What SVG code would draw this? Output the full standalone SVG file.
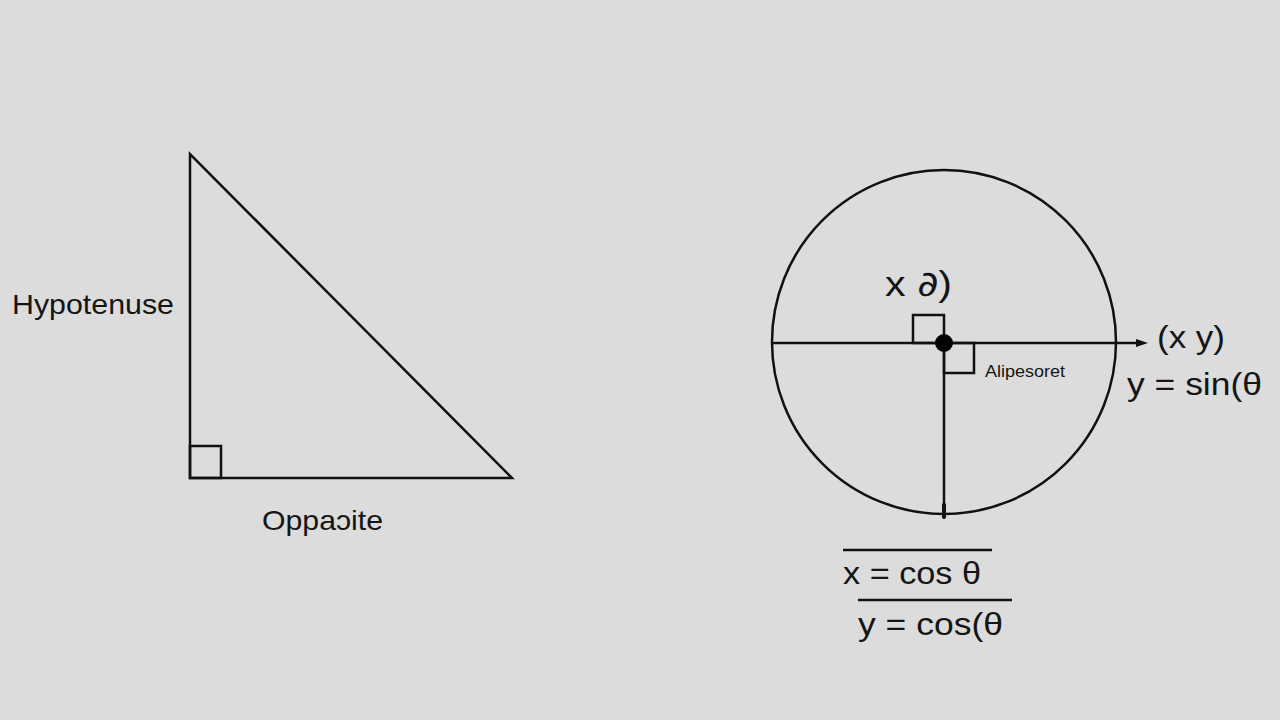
<svg xmlns="http://www.w3.org/2000/svg" width="1280" height="720" viewBox="0 0 1280 720">
<style>
.ln{fill:none;stroke:#111;stroke-width:2.5}
.t{font-family:"Liberation Sans",Arial,sans-serif;fill:#151515}
</style>
<rect width="1280" height="720" fill="#dcdcdc"/>
<g id="triangle">
<polygon class="ln" points="190,154 190,478 512,478"/>
<rect class="ln" x="190" y="446" width="31" height="32"/>
</g>
<g id="hypotenuse-label"><text class="t" x="12" y="314" font-size="28" textLength="162" lengthAdjust="spacingAndGlyphs">Hypotenuse</text></g>
<g id="opposite-label"><text class="t" x="262" y="530" font-size="28" textLength="121" lengthAdjust="spacingAndGlyphs">Oppaɔite</text></g>
<g id="circle">
<circle class="ln" cx="944" cy="342" r="172"/>
</g>
<g id="connectors">
<line class="ln" x1="772" y1="343" x2="1142" y2="343"/>
<path d="M1136,339 L1148,343 L1136,347 Z" fill="#111"/>
<line class="ln" x1="944" y1="343" x2="944" y2="516"/>
<line x1="944" y1="505" x2="944" y2="517" stroke="#111" stroke-width="4" stroke-linecap="round"/>
</g>
<g id="center">
<rect class="ln" x="913" y="315" width="31" height="28"/>
<rect class="ln" x="944" y="343" width="30" height="30"/>
<circle cx="944" cy="343" r="9" fill="#000"/>
</g>
<g id="labels">
<text class="t" x="885" y="296" font-size="35" textLength="67" lengthAdjust="spacingAndGlyphs">x <tspan font-family="'DejaVu Sans',sans-serif">∂</tspan>)</text>
<text class="t" x="1157" y="348" font-size="32" textLength="68" lengthAdjust="spacingAndGlyphs">(x y)</text>
<text class="t" x="1127" y="395" font-size="32" textLength="135" lengthAdjust="spacingAndGlyphs">y = sin(θ</text>
<text class="t" x="985" y="377" font-size="16" textLength="80" lengthAdjust="spacingAndGlyphs">Alipesoret</text>
<line class="ln" x1="843" y1="550" x2="992" y2="550"/>
<text class="t" x="843" y="584" font-size="31" textLength="138" lengthAdjust="spacingAndGlyphs">x = cos θ</text>
<line class="ln" x1="858" y1="600" x2="1012" y2="600"/>
<text class="t" x="858" y="635" font-size="31" textLength="145" lengthAdjust="spacingAndGlyphs">y = cos(θ</text>
</g>
</svg>
